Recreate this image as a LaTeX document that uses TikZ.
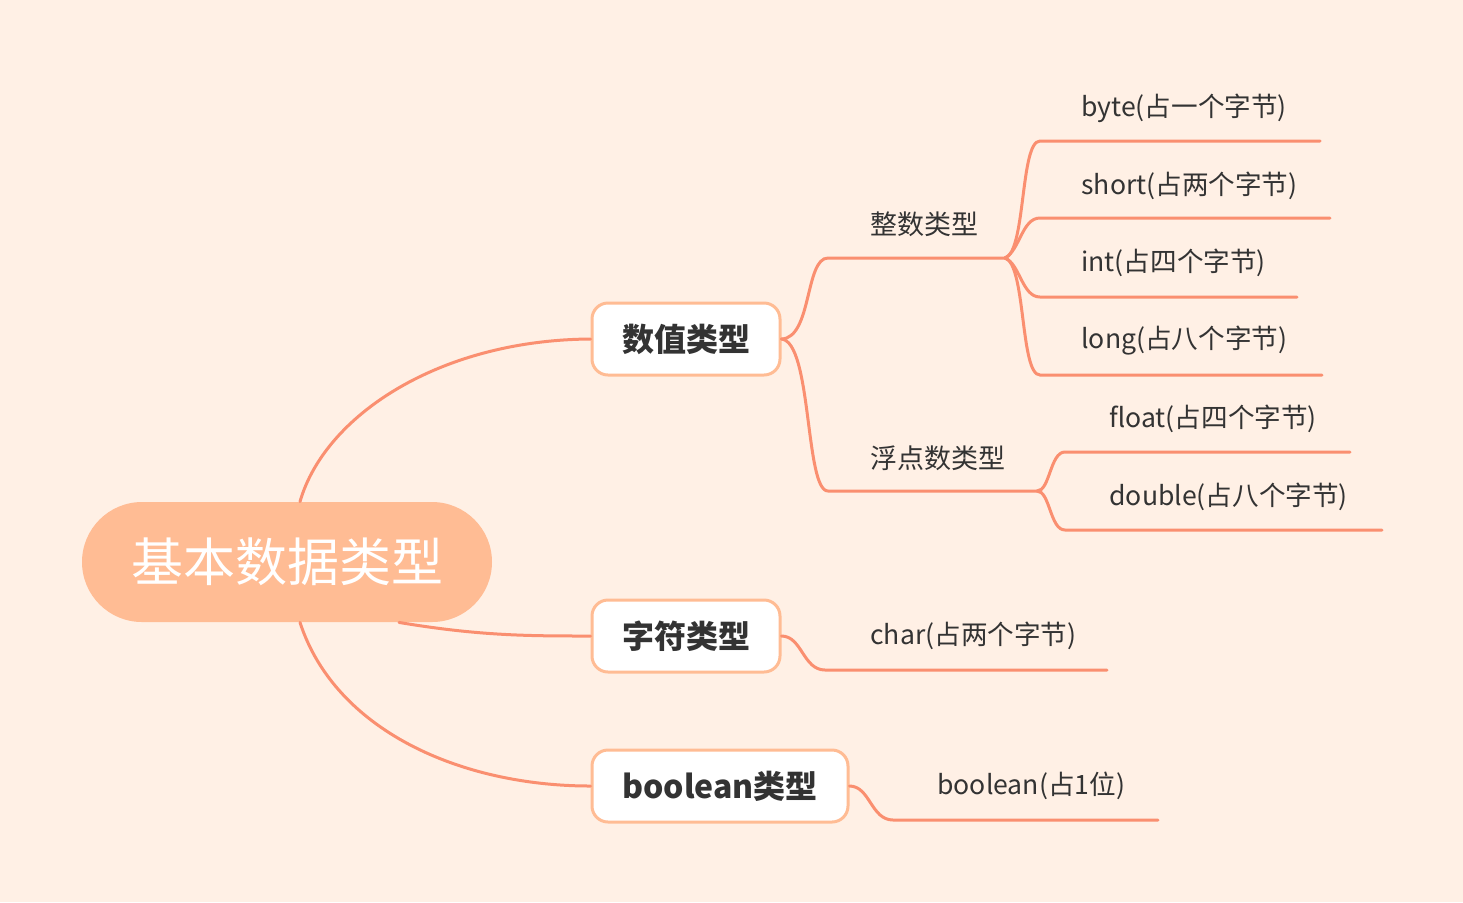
\documentclass[tikz,border=0pt]{standalone}
\usepackage{fontspec}
\setmainfont{Noto Sans CJK SC}
\usepackage{tikz}
\usetikzlibrary{positioning}
\usepackage{xcolor}
\definecolor{bgcol}{HTML}{FFF0E5}
\definecolor{rootcol}{HTML}{FFBC94}
\definecolor{edgecol}{HTML}{FA8F70}
\definecolor{txtcol}{HTML}{333333}

\tikzset{
  root/.style={fill=rootcol,rounded corners=30pt,minimum width=205pt,minimum height=60pt,
               text=white,font=\fontsize{26}{30}\selectfont,inner sep=0pt},
  branch/.style={fill=white,draw=rootcol,line width=1.5pt,rounded corners=8pt,
                 minimum height=36pt,text=txtcol,font=\fontsize{16}{19}\bfseries,inner sep=0pt},
  mid/.style={anchor=west,text=txtcol,font=\fontsize{13.5}{16}\selectfont,inner sep=0pt},
  leaf/.style={anchor=west,text=txtcol,font=\fontsize{13.3}{16}\selectfont,inner sep=0pt},
  conn/.style={draw=edgecol,line width=1.5pt,line cap=round}
}

\begin{document}
\begin{tikzpicture}[x=0.5pt,y=-0.5pt]
    \fill[bgcol] (0,0) rectangle (1463,902);
    \useasboundingbox (0,0) rectangle (1463,902);
    % ------------------------------------------------------------------
    %                             NODES
    % ------------------------------------------------------------------
    % root
    \node[root]                      (root) at (287,562)  {基本数据类型};
    % branches
    \node[branch,minimum width=94pt] (sz)   at (686,339)  {数值类型};
    \node[branch,minimum width=94pt] (zf)   at (686,636)  {字符类型};
    \node[branch,minimum width=128pt](bl)   at (720,786)  {boolean类型};
    % middle labels
    \node[mid]  (zs)  at (870,224)  {整数类型};
    \node[mid]  (fd)  at (870,458)  {浮点数类型};
    % leaves
    \node[leaf] (byte)   at (1081,108) {byte(占一个字节)};
    \node[leaf] (short)  at (1081,186) {short(占两个字节)};
    \node[leaf] (int)    at (1081,263) {int(占四个字节)};
    \node[leaf] (long)   at (1081,341) {long(占八个字节)};
    \node[leaf] (float)  at (1109,419) {float(占四个字节)};
    \node[leaf] (double) at (1109,497) {double(占八个字节)};
    \node[leaf] (char)   at (870,636)  {char(占两个字节)};
    \node[leaf] (bool)   at (937,786)  {boolean(占1位)};

    % underline ends
    \coordinate (zsL) at (828,258);   \coordinate (zsR) at (1005,258);
    \coordinate (fdL) at (828,491);   \coordinate (fdR) at (1037,491);
    \coordinate (byteL) at (1040,141);  \coordinate (byteR) at (1320,141);
    \coordinate (shortL) at (1040,218); \coordinate (shortR) at (1330,218);
    \coordinate (intL) at (1040,297);   \coordinate (intR) at (1297,297);
    \coordinate (longL) at (1040,375);  \coordinate (longR) at (1322,375);
    \coordinate (floatL) at (1065,452); \coordinate (floatR) at (1350,452);
    \coordinate (doubleL) at (1065,530);\coordinate (doubleR) at (1382,530);
    \coordinate (charL) at (825,670);   \coordinate (charR) at (1107,670);
    \coordinate (boolL) at (893,820);   \coordinate (boolR) at (1158,820);

    % ------------------------------------------------------------------
    %                             EDGES
    % ------------------------------------------------------------------
    % from root
    \draw[conn] ([xshift=6.5pt]root.north) .. controls (325,415) and (440,340) .. (sz.west);
    \draw[conn] ([xshift=56pt]root.south)  .. controls (480,636) and (530,636) .. (zf.west);
    \draw[conn] ([xshift=6.5pt]root.south) .. controls (335,730) and (460,786) .. (bl.west);
    % from 数值类型
    \draw[conn] (sz.east) .. controls (812,338) and (805,258) .. (zsL) -- (zsR);
    \draw[conn] (sz.east) .. controls (812,342) and (805,491) .. (fdL) -- (fdR);
    % from 整数类型
    \draw[conn] (zsR) .. controls (1026,252) and (1020,141) .. (byteL) -- (byteR);
    \draw[conn] (zsR) .. controls (1020,250) and (1022,218) .. (shortL) -- (shortR);
    \draw[conn] (zsR) .. controls (1020,264) and (1022,297) .. (intL) -- (intR);
    \draw[conn] (zsR) .. controls (1026,264) and (1020,375) .. (longL) -- (longR);
    % from 浮点数类型
    \draw[conn] (fdR) .. controls (1050,491) and (1050,452) .. (floatL) -- (floatR);
    \draw[conn] (fdR) .. controls (1050,491) and (1050,530) .. (doubleL) -- (doubleR);
    % from 字符类型 and boolean类型
    \draw[conn] (zf.east) .. controls (802,636) and (803,670) .. (charL) -- (charR);
    \draw[conn] (bl.east) .. controls (870,786) and (871,820) .. (boolL) -- (boolR);
\end{tikzpicture}
\end{document}
